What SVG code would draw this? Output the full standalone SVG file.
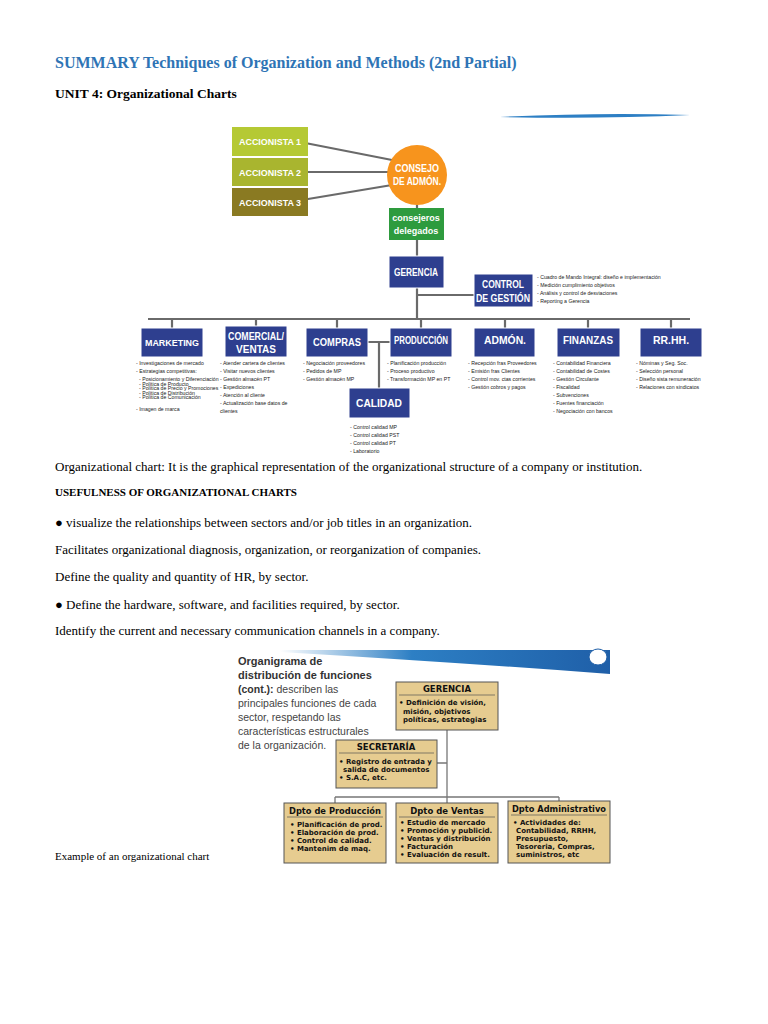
<svg xmlns="http://www.w3.org/2000/svg" width="768" height="1024" viewBox="0 0 768 1024">
<defs>
<style>
.s{font-family:"Liberation Sans Narrow","Liberation Serif",serif;font-size:13px;fill:#000}
.s{font-family:"Liberation Serif",serif}
.h{font-family:"Liberation Sans",Arial,sans-serif;font-weight:bold;fill:#fff;text-anchor:middle}
.d{font-family:"Liberation Sans",Arial,sans-serif;font-size:5.2px;fill:#222}
.bx{fill:#2e3f8f;stroke:#fff;stroke-width:1}
.ln{stroke:#6a6a6a;stroke-width:2.2;fill:none}
.tan{fill:#e6cc90;stroke:#555;stroke-width:1}
.t2{font-family:"DejaVu Sans",Verdana,sans-serif;font-weight:bold;font-size:7px;fill:#111}
.th{font-family:"DejaVu Sans",Verdana,sans-serif;font-weight:bold;font-size:8.5px;fill:#111;text-anchor:middle}
.g{font-family:"Liberation Sans",Arial,sans-serif;font-size:10.5px;fill:#444}
.ln2{stroke:#777;stroke-width:1.3;fill:none}
</style>
<linearGradient id="sw" x1="0" x2="1"><stop offset="0" stop-color="#fff"/><stop offset="0.4" stop-color="#2d7fc4"/><stop offset="1" stop-color="#1f5fa8"/></linearGradient>
</defs>
<rect width="768" height="1024" fill="#fff"/>
<text x="55" y="68" style="font-family:'Liberation Serif',serif;font-size:16px;font-weight:bold;fill:#2e74b5">SUMMARY Techniques of Organization and Methods (2nd Partial)</text>
<text x="55" y="98" style="font-family:'Liberation Serif',serif;font-size:13.5px;font-weight:bold">UNIT 4: Organizational Charts</text>

<path d="M500 117 Q600 112 690 115 Q600 119 500 117Z" fill="#2d7fc4"/>
<g id="connectors1">
<path class="ln" d="M290 140 L392 160 M290 172 L388 172 M290 202 L392 185 M417 205 V320 M417 295 H474 M148 319 H690"/>
<path class="ln" d="M172 319 V330 M256 319 V330 M337 319 V330 M421 319 V330 M505 319 V330 M588 319 V330 M671 319 V330 M368 342 H390 M379 342 V388"/>
</g>
<g id="accionista1"><rect x="232" y="127" width="76" height="29" fill="#b5c934"/><text class="h" x="270" y="145" font-size="9.5" textLength="62" lengthAdjust="spacingAndGlyphs">ACCIONISTA 1</text></g>
<g id="accionista2"><rect x="232" y="158" width="76" height="28" fill="#a9b52f"/><text class="h" x="270" y="176" font-size="9.5" textLength="62" lengthAdjust="spacingAndGlyphs">ACCIONISTA 2</text></g>
<g id="accionista3"><rect x="232" y="188" width="76" height="28" fill="#8a7a22"/><text class="h" x="270" y="206" font-size="9.5" textLength="62" lengthAdjust="spacingAndGlyphs">ACCIONISTA 3</text></g>
<g id="consejo"><circle cx="417" cy="175" r="30" fill="#f7941d"/><text class="h" x="417" y="172" font-size="10" font-weight="normal" textLength="44" lengthAdjust="spacingAndGlyphs">CONSEJO</text><text class="h" x="417" y="185" font-size="10" font-weight="normal" textLength="48" lengthAdjust="spacingAndGlyphs">DE ADMÓN.</text></g>
<g id="consejeros"><rect x="389" y="208" width="55" height="32" fill="#2e9b3e"/><text class="h" x="416" y="221" font-size="9" font-weight="normal">consejeros</text><text class="h" x="416" y="234" font-size="9" font-weight="normal">delegados</text></g>
<g id="gerencia"><rect class="bx" x="389" y="256" width="55" height="32"/><text class="h" x="416" y="276" font-size="10" font-weight="normal" textLength="44" lengthAdjust="spacingAndGlyphs">GERENCIA</text></g>
<g id="control"><rect class="bx" x="474" y="274" width="59" height="33"/><text class="h" x="503" y="288" font-size="10.5" font-weight="normal" textLength="42" lengthAdjust="spacingAndGlyphs">CONTROL</text><text class="h" x="503" y="302" font-size="10.5" font-weight="normal" textLength="54" lengthAdjust="spacingAndGlyphs">DE GESTIÓN</text>
<text class="d" x="537" y="279">- Cuadro de Mando Integral: diseño e implementación</text><text class="d" x="537" y="287">- Medición cumplimiento objetivos</text><text class="d" x="537" y="295">- Análisis y control de desviaciones</text><text class="d" x="537" y="303">- Reporting a Gerencia</text></g>
<g id="marketing"><rect class="bx" x="141" y="328" width="62" height="29"/><text class="h" x="172" y="346" font-size="9.5" textLength="54" lengthAdjust="spacingAndGlyphs">MARKETING</text>
<text class="d" x="136" y="365">- Investigaciones de mercado</text><text class="d" x="136" y="373">- Estrategias competitivas:</text>
<text class="d" x="139" y="381" font-size="3.2">- Posicionamiento y Diferenciación</text><text class="d" x="139" y="385.5" font-size="3.2">- Política de Producto</text><text class="d" x="139" y="390" font-size="3.2">- Política de Precio y Promociones</text><text class="d" x="139" y="394.5" font-size="3.2">- Política de Distribución</text><text class="d" x="139" y="399" font-size="3.2">- Política de Comunicación</text>
<text class="d" x="136" y="411">- Imagen de marca</text></g>
<g id="comercial"><rect class="bx" x="225" y="326" width="62" height="31"/><text class="h" x="256" y="340" font-size="10" textLength="56" lengthAdjust="spacingAndGlyphs">COMERCIAL/</text><text class="h" x="256" y="353" font-size="10">VENTAS</text>
<text class="d" x="220" y="365">- Atender cartera de clientes</text><text class="d" x="220" y="373">- Visitar nuevos clientes</text><text class="d" x="220" y="381">- Gestión almacén PT</text><text class="d" x="220" y="389">- Expediciones</text><text class="d" x="220" y="397">- Atención al cliente</text><text class="d" x="220" y="405">- Actualización base datos de</text><text class="d" x="220" y="413">clientes</text></g>
<g id="compras"><rect class="bx" x="306" y="328" width="62" height="29"/><text class="h" x="337" y="346" font-size="10" textLength="48" lengthAdjust="spacingAndGlyphs">COMPRAS</text>
<text class="d" x="303" y="365">- Negociación proveedores</text><text class="d" x="303" y="373">- Pedidos de MP</text><text class="d" x="303" y="381">- Gestión almacén MP</text></g>
<g id="produccion"><rect class="bx" x="390" y="328" width="62" height="29"/><text class="h" x="421" y="344" font-size="10" textLength="54" lengthAdjust="spacingAndGlyphs">PRODUCCIÓN</text>
<text class="d" x="387" y="365">- Planificación producción</text><text class="d" x="387" y="373">- Proceso productivo</text><text class="d" x="387" y="381">- Transformación MP en PT</text></g>
<g id="calidad"><rect class="bx" x="349" y="388" width="61" height="30"/><text class="h" x="379" y="407" font-size="10.5" textLength="46" lengthAdjust="spacingAndGlyphs">CALIDAD</text>
<text class="d" x="350" y="429">- Control calidad MP</text><text class="d" x="350" y="437">- Control calidad PST</text><text class="d" x="350" y="445">- Control calidad PT</text><text class="d" x="350" y="453">- Laboratorio</text></g>
<g id="admon"><rect class="bx" x="474" y="328" width="61" height="29"/><text class="h" x="505" y="344" font-size="10.5" textLength="42" lengthAdjust="spacingAndGlyphs">ADMÓN.</text>
<text class="d" x="468" y="365">- Recepción fras Proveedores</text><text class="d" x="468" y="373">- Emisión fras Clientes</text><text class="d" x="468" y="381">- Control mov. ctas corrientes</text><text class="d" x="468" y="389">- Gestión cobros y pagos</text></g>
<g id="finanzas"><rect class="bx" x="557" y="328" width="63" height="29"/><text class="h" x="588" y="344" font-size="10.5" textLength="50" lengthAdjust="spacingAndGlyphs">FINANZAS</text>
<text class="d" x="553" y="365">- Contabilidad Financiera</text><text class="d" x="553" y="373">- Contabilidad de Costes</text><text class="d" x="553" y="381">- Gestión Circulante</text><text class="d" x="553" y="389">- Fiscalidad</text><text class="d" x="553" y="397">- Subvenciones</text><text class="d" x="553" y="405">- Fuentes financiación</text><text class="d" x="553" y="413">- Negociación con bancos</text></g>
<g id="rrhh"><rect class="bx" x="640" y="328" width="62" height="29"/><text class="h" x="671" y="344" font-size="10.5" font-weight="normal">RR.HH.</text>
<text class="d" x="636" y="365">- Nóminas y Seg. Soc.</text><text class="d" x="636" y="373">- Selección personal</text><text class="d" x="636" y="381">- Diseño sista remuneración</text><text class="d" x="636" y="389">- Relaciones con sindicatos</text></g>

<text class="s" x="55" y="471" font-size="13">Organizational chart: It is the graphical representation of the organizational structure of a company or institution.</text>
<text x="55" y="496" style="font-family:'Liberation Serif',serif;font-size:11px;font-weight:bold">USEFULNESS OF ORGANIZATIONAL CHARTS</text>
<text class="s" x="55" y="527" font-size="13">● visualize the relationships between sectors and/or job titles in an organization.</text>
<text class="s" x="55" y="554" font-size="13">Facilitates organizational diagnosis, organization, or reorganization of companies.</text>
<text class="s" x="55" y="581" font-size="13">Define the quality and quantity of HR, by sector.</text>
<text class="s" x="55" y="609" font-size="13">● Define the hardware, software, and facilities required, by sector.</text>
<text class="s" x="55" y="635" font-size="13">Identify the current and necessary communication channels in a company.</text>
<text x="55" y="860" style="font-family:'Liberation Serif',serif;font-size:11px">Example of an organizational chart</text>

<path d="M280 650 H610 V674 Q450 662 280 652Z" fill="url(#sw)"/>
<ellipse cx="598" cy="657" rx="9" ry="8" fill="#fff" stroke="#1f5fa8"/>
<text x="238" y="665" style="font-family:'Liberation Sans',Arial,sans-serif;font-size:11px;font-weight:bold;fill:#333">Organigrama de</text>
<text x="238" y="679" style="font-family:'Liberation Sans',Arial,sans-serif;font-size:11px;font-weight:bold;fill:#333">distribución de funciones</text>
<text x="238" y="693" class="g"><tspan font-weight="bold" fill="#333">(cont.):</tspan> describen las</text>
<text x="238" y="707" class="g">principales funciones de cada</text>
<text x="238" y="721" class="g">sector, respetando las</text>
<text x="238" y="735" class="g">características estructurales</text>
<text x="238" y="749" class="g">de la organización.</text>
<g id="connectors2"><path class="ln2" d="M447 730 V797 M437 763 H447 M335 797 H559 M335 797 V803 M447 797 V803 M559 797 V803"/></g>
<g id="gerencia2"><rect class="tan" x="396" y="682" width="102" height="48"/><text class="th" x="447" y="692">GERENCIA</text><line x1="399" y1="695" x2="495" y2="695" stroke="#555" stroke-width="0.7"/>
<text class="t2" x="399" y="705">• Definición de visión,</text><text class="t2" x="403" y="714">misión, objetivos</text><text class="t2" x="403" y="722">políticas, estrategias</text></g>
<g id="secretaria"><rect class="tan" x="336" y="740" width="101" height="48"/><text class="th" x="386" y="750">SECRETARÍA</text><line x1="339" y1="753" x2="434" y2="753" stroke="#555" stroke-width="0.7"/>
<text class="t2" x="339" y="764">• Registro de entrada y</text><text class="t2" x="343" y="772">salida de documentos</text><text class="t2" x="339" y="780">• S.A.C, etc.</text></g>
<g id="produccion2"><rect class="tan" x="284" y="803" width="102" height="60"/><text class="th" x="335" y="814" textLength="92" lengthAdjust="spacingAndGlyphs">Dpto de Producción</text><line x1="287" y1="817" x2="383" y2="817" stroke="#555" stroke-width="0.7"/>
<text class="t2" x="290" y="827">• Planificación de prod.</text><text class="t2" x="290" y="835">• Elaboración de prod.</text><text class="t2" x="290" y="843">• Control de calidad.</text><text class="t2" x="290" y="851">• Mantenim de maq.</text></g>
<g id="ventas2"><rect class="tan" x="396" y="803" width="102" height="60"/><text class="th" x="447" y="814">Dpto de Ventas</text><line x1="399" y1="817" x2="495" y2="817" stroke="#555" stroke-width="0.7"/>
<text class="t2" x="400" y="825">• Estudio de mercado</text><text class="t2" x="400" y="833">• Promoción y publicid.</text><text class="t2" x="400" y="841">• Ventas y distribución</text><text class="t2" x="400" y="849">• Facturación</text><text class="t2" x="400" y="857">• Evaluación de result.</text></g>
<g id="admin2"><rect class="tan" x="508" y="801" width="102" height="62"/><text class="th" x="559" y="812" textLength="94" lengthAdjust="spacingAndGlyphs">Dpto Administrativo</text><line x1="511" y1="815" x2="607" y2="815" stroke="#555" stroke-width="0.7"/>
<text class="t2" x="513" y="825">• Actividades de:</text><text class="t2" x="516" y="833">Contabilidad, RRHH,</text><text class="t2" x="516" y="841">Presupuesto,</text><text class="t2" x="516" y="849">Tesoreria, Compras,</text><text class="t2" x="516" y="857">suministros, etc</text></g>
</svg>
